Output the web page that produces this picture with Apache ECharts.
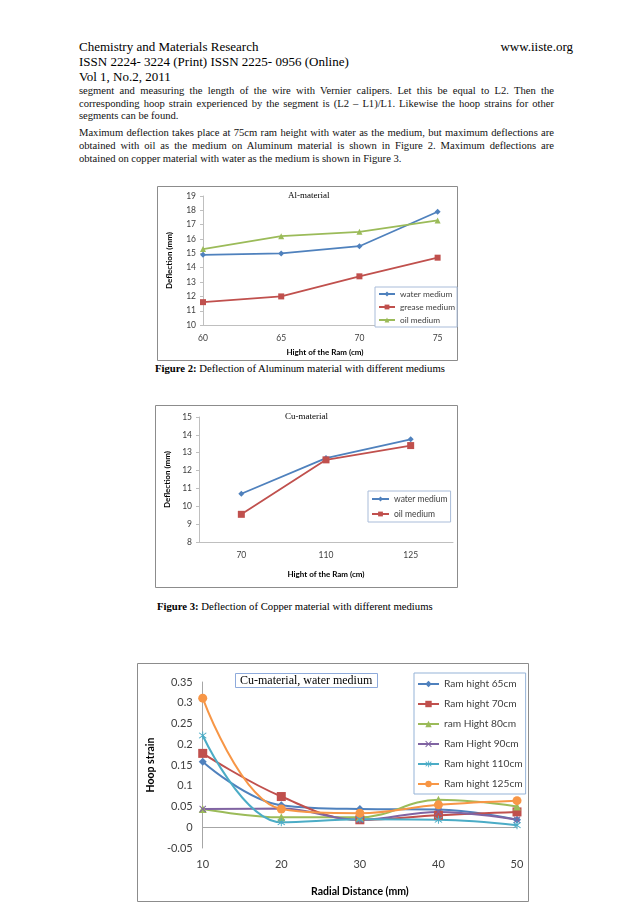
<!DOCTYPE html>
<html>
<head>
<meta charset="utf-8">
<script src="https://cdn.jsdelivr.net/npm/echarts@6/dist/echarts.min.js"></script>
<style>
  html, body { margin: 0; padding: 0; background: #fff; }
  body { width: 638px; height: 903px; position: relative; overflow: hidden; font-family: "Liberation Serif", "Times New Roman", serif; color: #000; }
  .hd { position: absolute; left: 79px; font-size: 13px; line-height: 15px; white-space: nowrap; }
  .bl { position: absolute; left: 79px; width: 475px; font-size: 10.6px; line-height: 13px; text-align: justify; text-align-last: justify; color: #111; }
  .bl.last { text-align: left; text-align-last: left; }
  .cap { position: absolute; font-size: 10.7px; line-height: 13px; white-space: nowrap; }
  .chart { position: absolute; }
</style>
</head>
<body>
<div class="hd" style="top:39px;">Chemistry and Materials Research</div>
<div class="hd" style="top:39px; left:auto; right:65px;">www.iiste.org</div>
<div class="hd" style="top:54px;">ISSN 2224- 3224 (Print) ISSN 2225- 0956 (Online)</div>
<div class="hd" style="top:69px;">Vol 1, No.2, 2011</div>

<div class="bl" style="top:84px;">segment and measuring the length of the wire with Vernier calipers. Let this be equal to L2. Then the</div>
<div class="bl" style="top:97px;">corresponding hoop strain experienced by the segment is (L2 – L1)/L1. Likewise the hoop strains for other</div>
<div class="bl last" style="top:109px;">segments can be found.</div>
<div class="bl" style="top:126px;">Maximum deflection takes place at 75cm ram height with water as the medium, but maximum deflections are</div>
<div class="bl" style="top:139px;">obtained with oil as the medium on Aluminum material is shown in Figure 2. Maximum deflections are</div>
<div class="bl last" style="top:152px;">obtained on copper material with water as the medium is shown in Figure 3.</div>

<div id="chartA" class="chart" style="left:157px; top:186px; width:301px; height:175px;"></div>
<div class="cap" style="left:155px; top:362px;"><b>Figure 2:</b> Deflection of Aluminum material with different mediums</div>

<div id="chartB" class="chart" style="left:155px; top:405px; width:303px; height:183px;"></div>
<div class="cap" style="left:157px; top:600px;"><b>Figure 3:</b> Deflection of Copper material with different mediums</div>

<div id="chartC" class="chart" style="left:137px; top:663px; width:392px; height:239px;"></div>

<script>
// keep justified lines on one line each
document.querySelectorAll('.bl').forEach(el => {
  let ls = 0;
  while (el.scrollHeight > 15 && ls > -0.6) { ls -= 0.05; el.style.letterSpacing = ls + 'px'; }
});

// ---------- Figure 2 : Al-material ----------
const alHeights = [60, 65, 70, 75];
const alWater = [14.9, 15.0, 15.5, 17.9];
const alGrease = [11.6, 12.0, 13.4, 14.7];
const alOil = [15.3, 16.2, 16.5, 17.3];

// ---------- Figure 3 : Cu-material ----------
const cuHeights = ['70', '110', '125'];
const cuWater = [10.7, 12.7, 13.75];
const cuOil = [9.55, 12.6, 13.4];

// ---------- Hoop strain : Cu-material, water medium ----------
const radialDistance = [10, 20, 30, 40, 50];
const ram65 = [0.158, 0.053, 0.044, 0.043, 0.018];
const ram70 = [0.178, 0.074, 0.018, 0.029, 0.037];
const ram80 = [0.044, 0.024, 0.024, 0.066, 0.050];
const ram90 = [0.044, 0.045, 0.018, 0.037, 0.018];
const ram110 = [0.221, 0.012, 0.019, 0.018, 0.005];
const ram125 = [0.311, 0.044, 0.034, 0.054, 0.064];

const BLUE = '#4F81BD', RED = '#C0504D', GREEN = '#9BBB59', PURPLE = '#8064A2', AQUA = '#4BACC6', ORANGE = '#F79646';
const SANS = 'Lato';
const X_PATH = 'path://M1,0L5,4L9,0L10,1L6,5L10,9L9,10L5,6L1,10L0,9L4,5L0,1Z';
const STAR_PATH = 'path://M1,0L5,4L9,0L10,1L6,5L10,9L9,10L5,6L1,10L0,9L4,5L0,1Z M4.4,-1.5L5.6,-1.5L5.6,11.5L4.4,11.5Z';

function frame(w, h) {
  return { type: 'rect', silent: true, z: -10, shape: { x: 0.5, y: 0.5, width: w - 1, height: h - 1 },
           style: { fill: '#fff', stroke: '#8c8c8c', lineWidth: 1 } };
}
function pairs(xs, ys) { return xs.map((x, i) => [x, ys[i]]); }

// ---------- Chart A ----------
const chartA = echarts.init(document.getElementById('chartA'));
chartA.setOption({
  animation: false,
  textStyle: { fontFamily: SANS },
  graphic: [
    frame(301, 175),
    { type: 'text', left: 131, top: 5, silent: true,
      style: { text: 'Al-material', fontFamily: 'Liberation Serif', fontSize: 9, fill: '#000' } }
  ],
  grid: { left: 43, right: 11, top: 10, bottom: 29 },
  legend: {
    orient: 'vertical', left: 218, top: 101, padding: [2, 2, 2, 3], itemGap: 3,
    itemWidth: 16, itemHeight: 6, backgroundColor: '#fff', borderColor: '#a9bcd9', borderWidth: 1,
    textStyle: { fontSize: 8.3, lineHeight: 10, color: '#404040', fontFamily: SANS },
    data: ['water medium', 'grease medium', 'oil medium']
  },
  xAxis: {
    type: 'value', min: 60, max: 75.6, interval: 5,
    name: 'Hight of the Ram (cm)', nameLocation: 'middle', nameGap: 21,
    nameTextStyle: { fontSize: 8, fontWeight: 'bold', color: '#000', fontFamily: SANS },
    axisLine: { lineStyle: { color: '#bfbfbf' } },
    axisTick: { show: false },
    axisLabel: { showMaxLabel: false, fontSize: 8.5, color: '#404040', margin: 9 },
    splitLine: { show: false }
  },
  yAxis: {
    type: 'value', min: 10, max: 19, interval: 1,
    name: 'Deflection (mm)', nameLocation: 'middle', nameGap: 30,
    nameTextStyle: { fontSize: 8, fontWeight: 'bold', color: '#000', fontFamily: SANS },
    axisLine: { show: true, lineStyle: { color: '#bfbfbf' } },
    axisTick: { show: true, length: 3, lineStyle: { color: '#bfbfbf' } },
    axisLabel: { fontSize: 8.5, color: '#404040', margin: 7 },
    splitLine: { show: false }
  },
  series: [
    { name: 'water medium', type: 'line', data: pairs(alHeights, alWater), symbol: 'diamond', symbolSize: 6,
      itemStyle: { color: BLUE }, lineStyle: { color: BLUE, width: 1.8 } },
    { name: 'grease medium', type: 'line', data: pairs(alHeights, alGrease), symbol: 'rect', symbolSize: 6,
      itemStyle: { color: RED }, lineStyle: { color: RED, width: 1.8 } },
    { name: 'oil medium', type: 'line', data: pairs(alHeights, alOil), symbol: 'triangle', symbolSize: 6,
      itemStyle: { color: GREEN }, lineStyle: { color: GREEN, width: 1.8 } }
  ]
});

// ---------- Chart B ----------
const chartB = echarts.init(document.getElementById('chartB'));
chartB.setOption({
  animation: false,
  textStyle: { fontFamily: SANS },
  graphic: [
    frame(303, 183),
    { type: 'text', left: 130, top: 7, silent: true,
      style: { text: 'Cu-material', fontFamily: 'Liberation Serif', fontSize: 9, fill: '#000' } }
  ],
  grid: { left: 44, right: 5, top: 12, bottom: 46 },
  legend: {
    orient: 'vertical', left: 213, top: 86, padding: [2.5, 3, 2.5, 3], itemGap: 4,
    itemWidth: 17, itemHeight: 6, backgroundColor: '#fff', borderColor: '#a9bcd9', borderWidth: 1,
    textStyle: { fontSize: 8.5, lineHeight: 11, color: '#404040', fontFamily: SANS },
    data: ['water medium', 'oil medium']
  },
  xAxis: {
    type: 'category', data: cuHeights, boundaryGap: true,
    name: 'Hight of the Ram (cm)', nameLocation: 'middle', nameGap: 28,
    nameTextStyle: { fontSize: 8, fontWeight: 'bold', color: '#000', fontFamily: SANS },
    axisLine: { lineStyle: { color: '#bfbfbf' } },
    axisTick: { show: false },
    axisLabel: { fontSize: 8.5, color: '#404040', margin: 9 }
  },
  yAxis: {
    type: 'value', min: 8, max: 15, interval: 1,
    name: 'Deflection (mm)', nameLocation: 'middle', nameGap: 27,
    nameTextStyle: { fontSize: 8, fontWeight: 'bold', color: '#000', fontFamily: SANS },
    axisLine: { show: true, lineStyle: { color: '#bfbfbf' } },
    axisTick: { show: true, length: 3, lineStyle: { color: '#bfbfbf' } },
    axisLabel: { fontSize: 8.5, color: '#404040', margin: 7 },
    splitLine: { show: false }
  },
  series: [
    { name: 'water medium', type: 'line', data: cuWater, symbol: 'diamond', symbolSize: 6,
      itemStyle: { color: BLUE }, lineStyle: { color: BLUE, width: 1.8 } },
    { name: 'oil medium', type: 'line', data: cuOil, symbol: 'rect', symbolSize: 7,
      itemStyle: { color: RED }, lineStyle: { color: RED, width: 1.8 } }
  ]
});

// ---------- Chart C ----------
const chartC = echarts.init(document.getElementById('chartC'));
const hoopSeries = [
  ['Ram hight 65cm', ram65, BLUE, 'diamond', 8],
  ['Ram hight 70cm', ram70, RED, 'rect', 9],
  ['ram Hight 80cm', ram80, GREEN, 'triangle', 8],
  ['Ram Hight 90cm', ram90, PURPLE, X_PATH, 7],
  ['Ram hight 110cm', ram110, AQUA, STAR_PATH, 8],
  ['Ram hight 125cm', ram125, ORANGE, 'circle', 9]
];
chartC.setOption({
  animation: false,
  textStyle: { fontFamily: SANS },
  graphic: [ frame(392, 239) ],
  title: {
    text: 'Cu-material, water medium', left: 98, top: 10, padding: [1, 5, 1, 5],
    borderColor: '#8eaadb', borderWidth: 1, backgroundColor: '#fff',
    textStyle: { fontFamily: 'Liberation Serif', fontSize: 12, fontWeight: 'normal', color: '#000', lineHeight: 13 }
  },
  grid: { left: 51, right: 12, top: 19, bottom: 34 },
  legend: {
    orient: 'vertical', left: 277, top: 10, padding: [4, 3, 3, 3], itemGap: 6,
    itemWidth: 21, itemHeight: 8, backgroundColor: '#fff', borderColor: '#95b3d7', borderWidth: 1,
    textStyle: { fontSize: 10.2, lineHeight: 14, color: '#404040', fontFamily: SANS },
    data: hoopSeries.map(s => s[0])
  },
  xAxis: {
    type: 'value', min: 10, max: 50, interval: 10,
    name: 'Radial Distance (mm)', nameLocation: 'middle', nameGap: 38,
    nameTextStyle: { fontSize: 10.5, fontWeight: 'bold', color: '#000', fontFamily: SANS },
    axisLine: { onZero: true, lineStyle: { color: '#a6a6a6' } },
    axisTick: { show: false },
    axisLabel: { fontSize: 11, color: '#404040', margin: 11 },
    splitLine: { show: false }
  },
  yAxis: {
    type: 'value', min: -0.05, max: 0.35, interval: 0.05,
    name: 'Hoop strain', nameLocation: 'middle', nameGap: 40,
    nameTextStyle: { fontSize: 10.5, fontWeight: 'bold', color: '#000', fontFamily: SANS },
    axisLine: { show: true, onZero: false, lineStyle: { color: '#a6a6a6' } },
    axisTick: { show: false },
    axisLabel: { fontSize: 11, color: '#404040', margin: 10,
                 formatter: v => String(parseFloat(v.toFixed(2))) },
    splitLine: { show: false }
  },
  series: hoopSeries.map(([name, vals, color, symbol, size]) => ({
    name, type: 'line', smooth: 0.4, data: pairs(radialDistance, vals),
    symbol, symbolSize: size,
    itemStyle: { color }, lineStyle: { color, width: 2 }
  }))
});
</script>
</body>
</html>
